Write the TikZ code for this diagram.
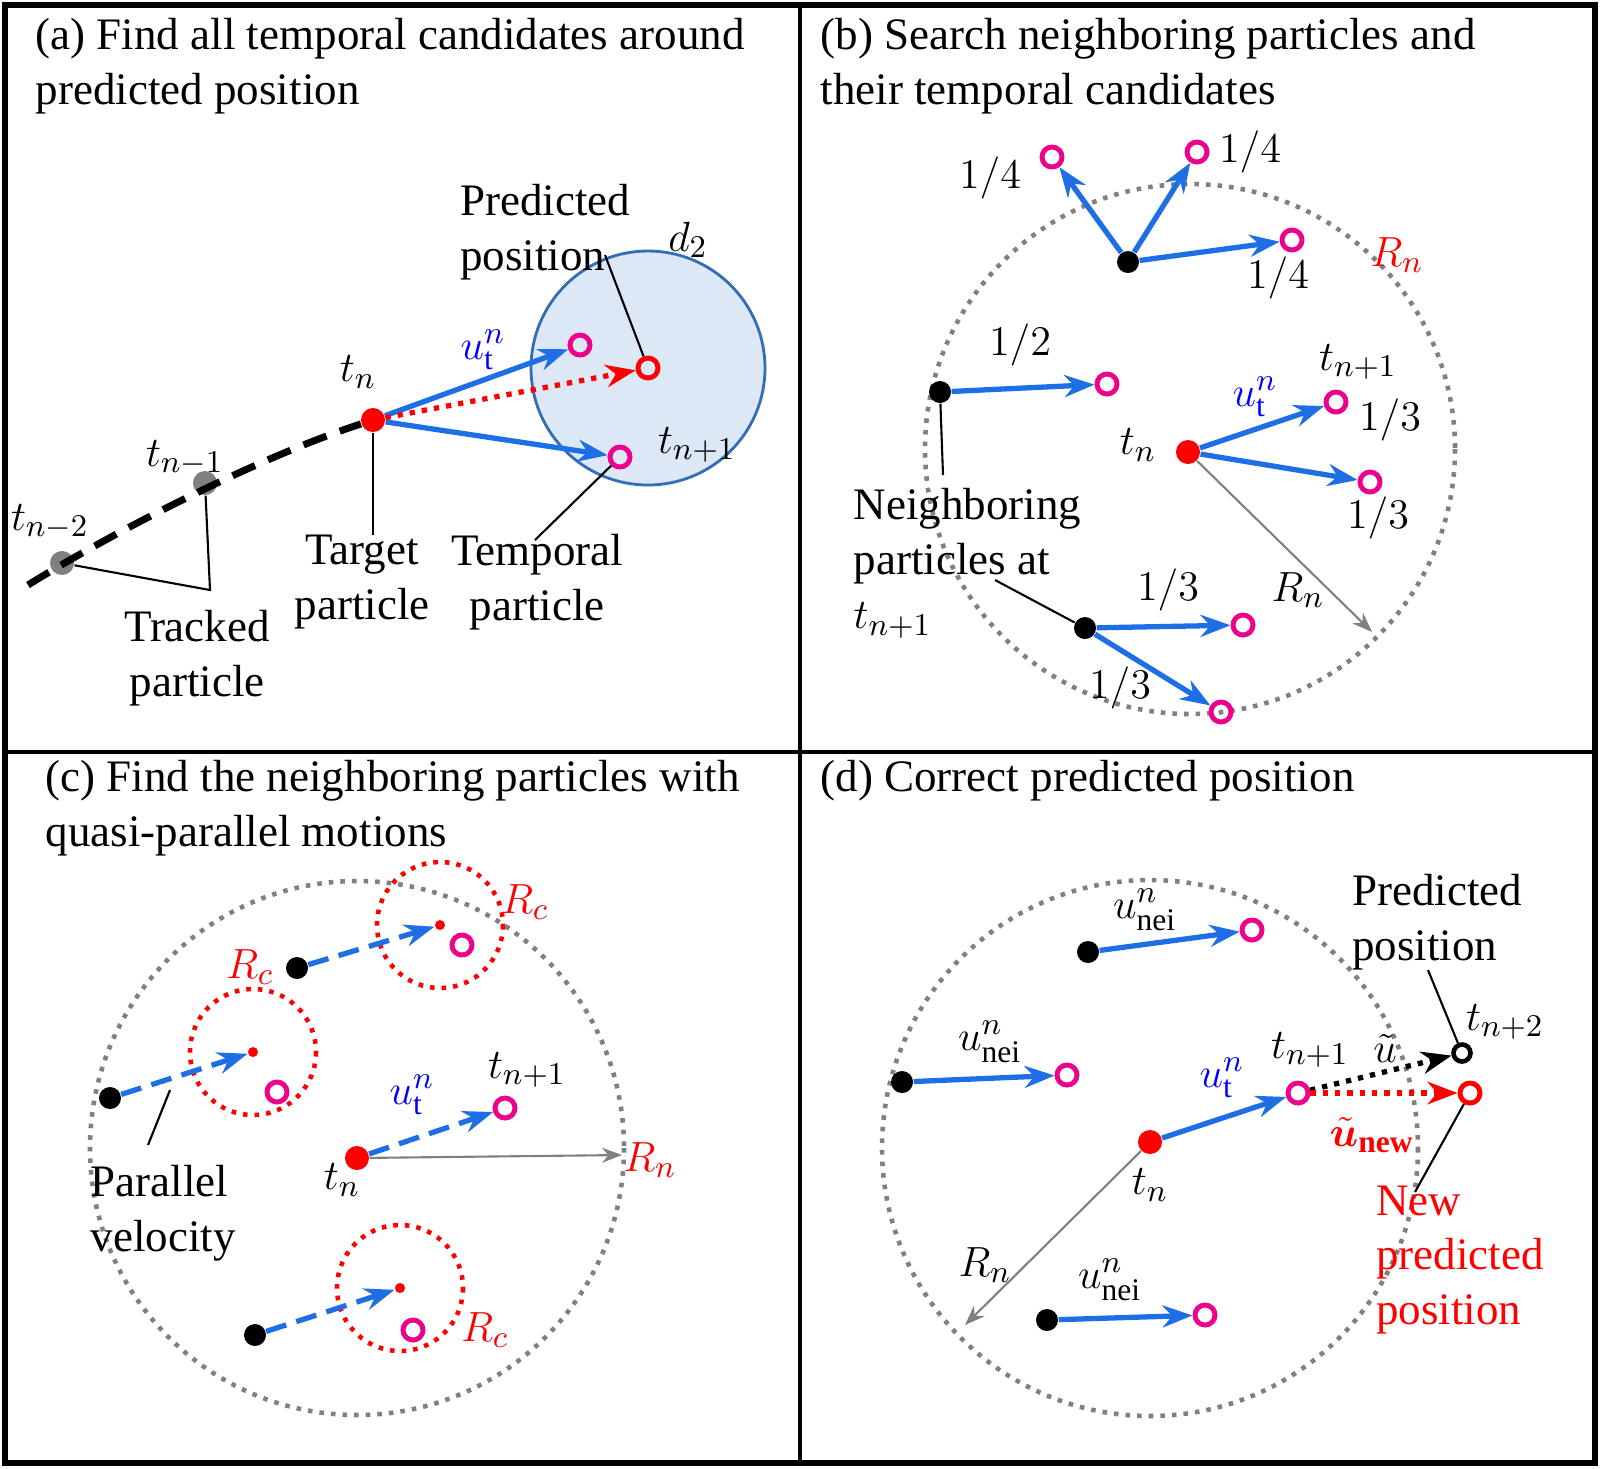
\documentclass[tikz,border=0pt]{standalone}
\usepackage{amsmath,bm}
\usepackage{fontspec}
\setmainfont{Liberation Serif}
\usetikzlibrary{arrows.meta}
\definecolor{arrblue}{RGB}{30,110,230}
\definecolor{circblue}{RGB}{50,110,180}
\definecolor{fillblue}{RGB}{220,232,246}
\begin{document}
\begin{tikzpicture}[x=0.01cm,y=-0.01cm,
 font=\fontsize{12.8}{15.5}\selectfont,
 bdot/.style={circle,fill=black,inner sep=0,minimum size=2.2mm},
 gdot/.style={circle,fill=gray,inner sep=0,minimum size=2.4mm},
 rdot/.style={circle,fill=red,inner sep=0,minimum size=2.4mm},
 sr/.style={circle,fill=red,inner sep=0,minimum size=1mm},
 mc/.style={circle,draw=magenta,line width=1.4pt,inner sep=0,minimum size=2mm},
 rc/.style={circle,draw=red,line width=1.4pt,inner sep=0,minimum size=2mm},
 kc/.style={circle,draw=black,line width=1.3pt,inner sep=0,minimum size=1.7mm},
 barr/.style={-{Stealth[length=3mm,width=2.2mm]},draw=arrblue,line width=1.5pt},
 bdash/.style={barr,dash pattern=on 6pt off 3pt},
 garr/.style={-{Stealth[length=2mm]},draw=gray,line width=0.6pt},
 gcirc/.style={draw=gray,dotted,line width=1.3pt},
 rcirc/.style={draw=red,dotted,line width=1.3pt},
 ptr/.style={draw=black,line width=0.6pt},
 txt/.style={align=left,inner sep=0},
]
\path[use as bounding box,clip] (0,0) rectangle (1600,1468);
\draw[line width=1.5pt] (5,5) rectangle (1595,1463);
\draw[line width=1pt] (800,5) -- (800,1463) (5,752) -- (1595,752);

% ---------- (a)
\node[txt,anchor=north west] (ta) at (35,18) {(a) Find all temporal candidates around\\predicted position};
\fill[fillblue] (648,368) circle (117);
\draw[circblue,line width=0.8pt] (648,368) circle (117);
\node[gdot] (a2) at (62,563) {};
\node[gdot] (a1) at (205,483) {};
\node[rdot] (a0) at (373,420) {};
\coordinate (as) at (28,585);
\draw[line width=2pt,dash pattern=on 7pt off 4pt] (as) .. controls (100,540) and (250,460) .. (a0);
\node[mc] (am1) at (580,345) {};
\node[mc] (am2) at (620,457) {};
\node[rc] (ap) at (648,368) {};
\draw[barr] (a0) -- (am1);
\draw[barr] (a0) -- (am2);
\draw[red,dotted,line width=1.5pt,-{Stealth[length=3mm]}] (a0) -- (ap);
\node (l1) at (358,372) {$t_n$};
\node (l2) at (185,458) {$t_{n-1}$};
\node (l3) at (50,522) {$t_{n-2}$};
\node (l4) at (697,445) {$t_{n+1}$};
\node[blue] (l5) at (483,350) {$u_{\mathrm{t}}^n$};
\node (l6) at (688,240) {$d_2$};
\node[txt] (pp) at (545,232) {Predicted\\position};
\coordinate (pp1) at (605,255);
\draw[ptr] (pp1) -- (ap);
\node[txt,align=center] (tp) at (362,582) {Target\\particle};
\node[txt,align=center] (tmp) at (537,582) {Temporal\\particle};
\node[txt,align=center] (trp) at (197,658) {Tracked\\particle};
\coordinate (c1) at (373,535);
\draw[ptr] (a0) -- (c1);
\coordinate (c2) at (535,540);
\draw[ptr] (c2) -- (am2);
\coordinate (c3) at (210,590);
\draw[ptr] (a2) -- (c3) -- (a1);

% ---------- (b)
\node[txt,anchor=north west] (tb) at (820,18) {(b) Search neighboring particles and\\their temporal candidates};
\draw[gcirc] (1190,449) circle (265);
\node[bdot] (b1) at (1128,262) {};
\node[bdot] (b2) at (940,392) {};
\node[bdot] (b3) at (1085,628) {};
\node[rdot] (b0) at (1188,452) {};
\node[mc] (bm1) at (1052,157) {};
\node[mc] (bm2) at (1197,152) {};
\node[mc] (bm3) at (1292,240) {};
\node[mc] (bm4) at (1107,384) {};
\node[mc] (bm5) at (1336,402) {};
\node[mc] (bm6) at (1370,482) {};
\node[mc] (bm7) at (1243,625) {};
\node[mc] (bm8) at (1221,712) {};
\foreach \s/\t in {b1/bm1,b1/bm2,b1/bm3,b2/bm4,b0/bm5,b0/bm6,b3/bm7,b3/bm8} \draw[barr] (\s) -- (\t);
\node (q1) at (990,178) {$1/4$};
\node (q2) at (1250,152) {$1/4$};
\node (q3) at (1278,278) {$1/4$};
\node (q4) at (1020,345) {$1/2$};
\node (q5) at (1390,420) {$1/3$};
\node (q6) at (1378,518) {$1/3$};
\node (q7) at (1168,590) {$1/3$};
\node (q8) at (1120,688) {$1/3$};
\node (q9) at (1358,362) {$t_{n+1}$};
\node[blue] (q10) at (1255,397) {$u_{\mathrm{t}}^n$};
\node (q11) at (1138,445) {$t_n$};
\node[red] (q12) at (1397,255) {$R_n$};
\node (q13) at (1298,590) {$R_n$};
\coordinate (bR) at (1372,632);
\draw[garr] (b0) -- (bR);
\node[txt,anchor=north west] (nb) at (853,488) {Neighboring\\particles at\\$t_{n+1}$};
\coordinate (bc1) at (943,475);
\draw[ptr] (b2) -- (bc1);
\coordinate (bc2) at (995,580);
\draw[ptr] (b3) -- (bc2);

% ---------- (c)
\node[txt,anchor=north west] (tc) at (45,760) {(c) Find the neighboring particles with\\quasi-parallel motions};
\draw[gcirc] (357,1148) circle (267);
\node[bdot] (c1b) at (297,968) {};
\node[bdot] (c2b) at (110,1098) {};
\node[bdot] (c3b) at (255,1335) {};
\node[rdot] (c0) at (357,1158) {};
\node[sr] (s1) at (440,925) {};
\node[sr] (s2) at (253,1052) {};
\node[sr] (s3) at (400,1288) {};
\draw[rcirc] (440,925) circle (63) (253,1052) circle (63) (400,1288) circle (63);
\node[mc] (cm1) at (462,945) {};
\node[mc] (cm2) at (277,1092) {};
\node[mc] (cm3) at (413,1330) {};
\node[mc] (cm4) at (505,1108) {};
\draw[bdash] (c1b) -- (s1);
\draw[bdash] (c2b) -- (s2);
\draw[bdash] (c3b) -- (s3);
\draw[bdash] (c0) -- (cm4);
\coordinate (cR) at (622,1155);
\draw[garr] (c0) -- (cR);
\node[red] (r1) at (525,902) {$R_c$};
\node[red] (r2) at (250,967) {$R_c$};
\node[red] (r3) at (485,1330) {$R_c$};
\node[red] (r4) at (650,1160) {$R_n$};
\node (r5) at (527,1070) {$t_{n+1}$};
\node[blue] (r6) at (412,1095) {$u_{\mathrm{t}}^n$};
\node (r7) at (342,1180) {$t_n$};
\node[txt,anchor=north west] (pv) at (90,1165) {Parallel\\velocity};
\coordinate (pc1) at (148,1145);
\coordinate (pc2) at (170,1090);
\draw[ptr] (pc1) -- (pc2);

% ---------- (d)
\node[txt,anchor=north west] (td) at (820,760) {(d) Correct predicted position};
\draw[gcirc] (1150,1148) circle (268);
\node[bdot] (d1) at (1088,952) {};
\node[bdot] (d2) at (902,1082) {};
\node[bdot] (d3) at (1047,1320) {};
\node[rdot] (d0) at (1150,1142) {};
\node[mc] (dm1) at (1252,930) {};
\node[mc] (dm2) at (1067,1075) {};
\node[mc] (dm3) at (1205,1315) {};
\node[mc] (dm4) at (1298,1093) {};
\node[kc] (dk) at (1462,1053) {};
\node[rc] (dr) at (1470,1093) {};
\draw[barr] (d1) -- (dm1);
\draw[barr] (d2) -- (dm2);
\draw[barr] (d3) -- (dm3);
\draw[barr] (d0) -- (dm4);
\draw[black,dotted,line width=1.5pt,-{Stealth[length=3mm]}] (dm4) -- (dk);
\draw[red,dotted,line width=1.5pt,-{Stealth[length=3mm]}] (dm4) -- (dr);
\coordinate (dR) at (965,1325);
\draw[garr] (d0) -- (dR);
\node (e1) at (1145,910) {$u_{\mathrm{nei}}^n$};
\node (e2) at (990,1042) {$u_{\mathrm{nei}}^n$};
\node (e3) at (1110,1280) {$u_{\mathrm{nei}}^n$};
\node[blue] (e4) at (1222,1078) {$u_{\mathrm{t}}^n$};
\node (e5) at (1310,1050) {$t_{n+1}$};
\node (e6) at (1385,1048) {$\tilde u$};
\node (e7) at (1505,1022) {$t_{n+2}$};
\node[txt] (e8) at (1437,922) {Predicted\\position};
\coordinate (ec1) at (1428,970);
\draw[ptr] (ec1) -- (dk);
\node[red] (e9) at (1372,1135) {$\tilde{\bm u}_{\mathbf{new}}$};
\node (e10) at (1150,1185) {$t_n$};
\node (e11) at (985,1265) {$R_n$};
\node[txt,red] (e12) at (1460,1260) {New\\predicted\\position};
\coordinate (ec2) at (1415,1192);
\draw[ptr] (ec2) -- (dr);
\end{tikzpicture}
\end{document}
